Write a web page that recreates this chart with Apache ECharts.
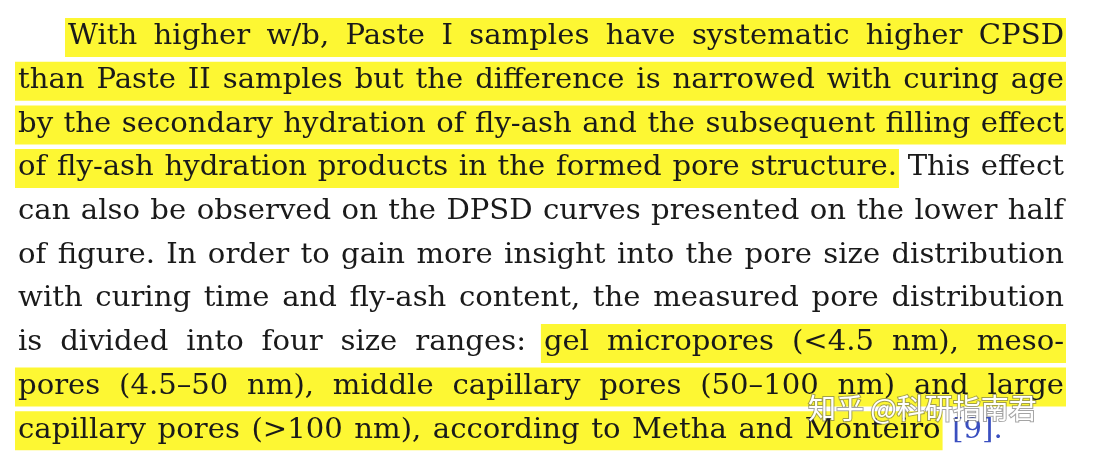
<!DOCTYPE html>
<html>
<head>
<meta charset="utf-8">
<script src="https://cdn.jsdelivr.net/npm/echarts@6/dist/echarts.min.js"></script>
<style>html,body{margin:0;padding:0;background:#fff}#main{width:1108px;height:458px}</style>
</head>
<body>
<div id="main"></div>
<script>
// text lines of the paragraph
var lines = [
  "With higher w/b, Paste I samples have systematic higher CPSD",
  "than Paste II samples but the difference is narrowed with curing age",
  "by the secondary hydration of fly-ash and the subsequent filling effect",
  "of fly-ash hydration products in the formed pore structure. This effect",
  "can also be observed on the DPSD curves presented on the lower half",
  "of figure. In order to gain more insight into the pore size distribution",
  "with curing time and fly-ash content, the measured pore distribution",
  "is divided into four size ranges: gel micropores (<4.5 nm), meso-",
  "pores (4.5\u201350 nm), middle capillary pores (50\u2013100 nm) and large",
  "capillary pores (>100 nm), according to Metha and Monteiro [9]."
];
// highlighted word range per line [first, last] (word indexes), null = none
var highlights = [[0, 99], [0, 99], [0, 99], [0, 8], null, null, null, [6, 99], [0, 99], [0, 8]];
var blueWords = ["[9]."];
var watermark = "知乎 @科研指南君";

var font = '28px "DejaVu Serif", serif';
var sx = 1.04;
var left = 18, right = 1064, top0 = 37, lineGap = 43.7;
var ctx = document.createElement('canvas').getContext('2d');
ctx.font = font;
var els = [];
lines.forEach(function (line, li) {
  var words = line.split(' ');
  var x0 = li === 0 ? 68 : left;
  var widths = words.map(function (w) { return ctx.measureText(w).width * sx; });
  var total = widths.reduce(function (a, b) { return a + b; }, 0);
  var last = li === lines.length - 1;
  var gap = last ? ctx.measureText(' ').width * 1.3 : (right - x0 - total) / (words.length - 1);
  var y = top0 + li * lineGap;
  var x = x0, hs = null, he = null;
  var h = highlights[li];
  words.forEach(function (w, wi) {
    if (h && wi >= h[0] && wi <= h[1]) {
      if (hs === null) hs = x - 3;
      he = x + widths[wi] + 2;
    }
    els.push({
      type: 'text', z: 2, x: x, y: y, scaleX: sx,
      style: { text: w, font: font, fill: blueWords.indexOf(w) >= 0 && last ? '#3a4fc0' : '#1a1a1a', textVerticalAlign: 'middle' }
    });
    x += widths[wi] + gap;
  });
  if (hs !== null) {
    els.push({ type: 'rect', z: 1, shape: { x: hs, y: y - 19, width: he - hs, height: 39 }, style: { fill: '#fdf733' } });
  }
});
els.push({
  type: 'text', z: 3, x: 808, y: 408,
  style: { text: watermark, font: '28px "Noto Sans CJK SC", sans-serif', fill: '#ffffff',
    textVerticalAlign: 'middle', stroke: 'rgba(90,90,90,0.55)', lineWidth: 2 }
});
var chart = echarts.init(document.getElementById('main'));
chart.setOption({ animation: false, graphic: { elements: els } });
</script>
</body>
</html>
